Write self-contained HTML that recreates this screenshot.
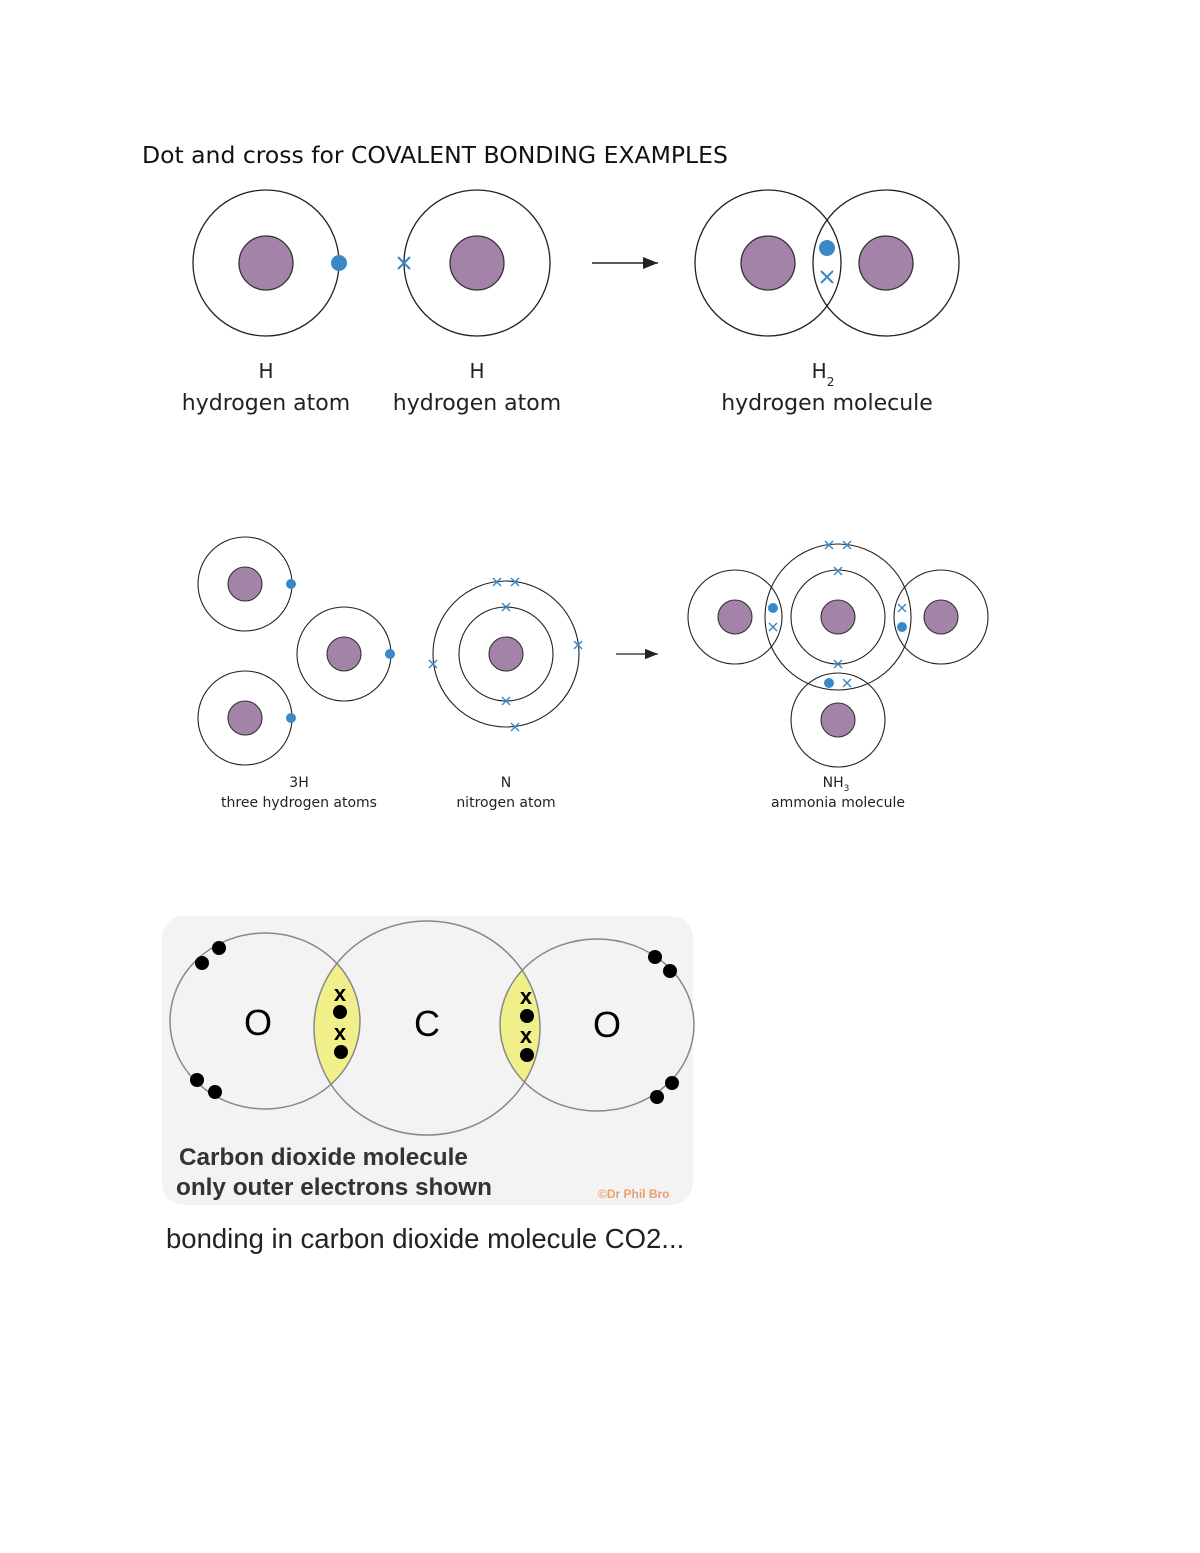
<!DOCTYPE html>
<html><head><style>body{margin:0;background:#fff}svg{display:block}</style></head><body>
<svg width="1200" height="1553" viewBox="0 0 1200 1553" xmlns="http://www.w3.org/2000/svg">
<defs>
<marker id="ah" markerWidth="10" markerHeight="8" refX="10" refY="4" orient="auto"><path d="M0,0 L10,4 L0,8 Z" fill="#222"/></marker>
<clipPath id="cl1"><ellipse cx="265" cy="1021" rx="95" ry="88"/></clipPath>
<clipPath id="cl2"><ellipse cx="597" cy="1025" rx="97" ry="86"/></clipPath>
</defs>
<text x="142" y="163" font-family="DejaVu Sans, sans-serif" font-size="23.5" fill="#111">Dot and cross for COVALENT BONDING EXAMPLES</text>
<g fill="none" stroke="#222" stroke-width="1.3">
<circle cx="266" cy="263" r="73"/><circle cx="477" cy="263" r="73"/>
<circle cx="768" cy="263" r="73"/><circle cx="886" cy="263" r="73"/>
</g>
<g fill="#a483a8" stroke="#333" stroke-width="1.3">
<circle cx="266" cy="263" r="27"/><circle cx="477" cy="263" r="27"/>
<circle cx="768" cy="263" r="27"/><circle cx="886" cy="263" r="27"/>
</g>
<circle cx="339" cy="263" r="8" fill="#3b88c8"/>
<circle cx="827" cy="248" r="8" fill="#3b88c8"/>
<g stroke="#3b88c8" stroke-width="2">
<path d="M398,257 l12,12 M410,257 l-12,12"/>
<path d="M821,271 l12,12 M833,271 l-12,12"/>
</g>
<line x1="592" y1="263" x2="658" y2="263" stroke="#222" stroke-width="1.5" marker-end="url(#ah)"/>
<g font-family="DejaVu Sans, sans-serif" fill="#222" text-anchor="middle">
<text x="266" y="378" font-size="20">H</text><text x="266" y="410" font-size="22">hydrogen atom</text>
<text x="477" y="378" font-size="20">H</text><text x="477" y="410" font-size="22">hydrogen atom</text>
<text x="823" y="378" font-size="20">H<tspan font-size="12" dy="8">2</tspan></text><text x="827" y="410" font-size="22">hydrogen molecule</text>
</g>
<g fill="none" stroke="#222" stroke-width="1.1">
<circle cx="245" cy="584" r="47"/><circle cx="344" cy="654" r="47"/><circle cx="245" cy="718" r="47"/>
<circle cx="506" cy="654" r="47"/><circle cx="506" cy="654" r="73"/>
<circle cx="838" cy="617" r="47"/><circle cx="838" cy="617" r="73"/>
<circle cx="735" cy="617" r="47"/><circle cx="941" cy="617" r="47"/><circle cx="838" cy="720" r="47"/>
</g>
<g fill="#a483a8" stroke="#333" stroke-width="1.1">
<circle cx="245" cy="584" r="17"/><circle cx="344" cy="654" r="17"/><circle cx="245" cy="718" r="17"/>
<circle cx="506" cy="654" r="17"/><circle cx="838" cy="617" r="17"/>
<circle cx="735" cy="617" r="17"/><circle cx="941" cy="617" r="17"/><circle cx="838" cy="720" r="17"/>
</g>
<g fill="#3b88c8">
<circle cx="291" cy="584" r="5"/><circle cx="390" cy="654" r="5"/><circle cx="291" cy="718" r="5"/>
<circle cx="773" cy="608" r="5"/><circle cx="902" cy="627" r="5"/><circle cx="829" cy="683" r="5"/>
</g>
<g stroke="#3b88c8" stroke-width="1.5">
<path d="M493,578 l8,8 M501,578 l-8,8"/><path d="M511,578 l8,8 M519,578 l-8,8"/>
<path d="M502,603 l8,8 M510,603 l-8,8"/><path d="M429,660 l8,8 M437,660 l-8,8"/>
<path d="M574,641 l8,8 M582,641 l-8,8"/><path d="M502,697 l8,8 M510,697 l-8,8"/>
<path d="M511,723 l8,8 M519,723 l-8,8"/>
<path d="M769,623 l8,8 M777,623 l-8,8"/><path d="M898,604 l8,8 M906,604 l-8,8"/>
<path d="M843,679 l8,8 M851,679 l-8,8"/><path d="M834,567 l8,8 M842,567 l-8,8"/>
<path d="M834,660 l8,8 M842,660 l-8,8"/><path d="M825,541 l8,8 M833,541 l-8,8"/>
<path d="M843,541 l8,8 M851,541 l-8,8"/>
</g>
<line x1="616" y1="654" x2="658" y2="654" stroke="#222" stroke-width="1.3" marker-end="url(#ah)"/>
<g font-family="DejaVu Sans, sans-serif" fill="#222" text-anchor="middle" font-size="14">
<text x="299" y="787">3H</text><text x="299" y="807">three hydrogen atoms</text>
<text x="506" y="787">N</text><text x="506" y="807">nitrogen atom</text>
<text x="836" y="787">NH<tspan font-size="9" dy="4">3</tspan></text><text x="838" y="807">ammonia molecule</text>
</g>
<rect x="162" y="916" width="531" height="289" rx="22" fill="#f3f3f3"/>
<ellipse cx="427" cy="1028" rx="113" ry="107" fill="#f1ef8a" clip-path="url(#cl1)"/>
<ellipse cx="427" cy="1028" rx="113" ry="107" fill="#f1ef8a" clip-path="url(#cl2)"/>
<g fill="none" stroke="#888" stroke-width="1.5">
<ellipse cx="265" cy="1021" rx="95" ry="88"/>
<ellipse cx="427" cy="1028" rx="113" ry="107"/>
<ellipse cx="597" cy="1025" rx="97" ry="86"/>
</g>
<g fill="#000">
<circle cx="202" cy="963" r="7"/><circle cx="219" cy="948" r="7"/>
<circle cx="197" cy="1080" r="7"/><circle cx="215" cy="1092" r="7"/>
<circle cx="655" cy="957" r="7"/><circle cx="670" cy="971" r="7"/>
<circle cx="672" cy="1083" r="7"/><circle cx="657" cy="1097" r="7"/>
<circle cx="340" cy="1012" r="7"/><circle cx="341" cy="1052" r="7"/>
<circle cx="527" cy="1016" r="7"/><circle cx="527" cy="1055" r="7"/>
</g>
<g font-family="Liberation Sans, sans-serif" fill="#000" text-anchor="middle">
<text x="340" y="1001" font-size="22" font-weight="bold">x</text><text x="340" y="1040" font-size="22" font-weight="bold">x</text>
<text x="526" y="1004" font-size="22" font-weight="bold">x</text><text x="526" y="1043" font-size="22" font-weight="bold">x</text>
<text x="258" y="1035" font-size="36">O</text><text x="427" y="1036" font-size="36">C</text><text x="607" y="1037" font-size="36">O</text>
</g>
<g font-family="Liberation Sans, sans-serif" font-weight="bold" fill="#333" font-size="24.3">
<text x="179" y="1165">Carbon dioxide molecule</text>
<text x="176" y="1195">only outer electrons shown</text>
</g>
<text x="598" y="1198" font-family="Liberation Sans, sans-serif" font-size="12" font-weight="bold" fill="#e8a070">©Dr Phil Bro</text>
<text x="166" y="1248" font-family="Liberation Sans, sans-serif" font-size="27.5" fill="#222">bonding in carbon dioxide molecule CO2...</text>
</svg>
</body></html>
